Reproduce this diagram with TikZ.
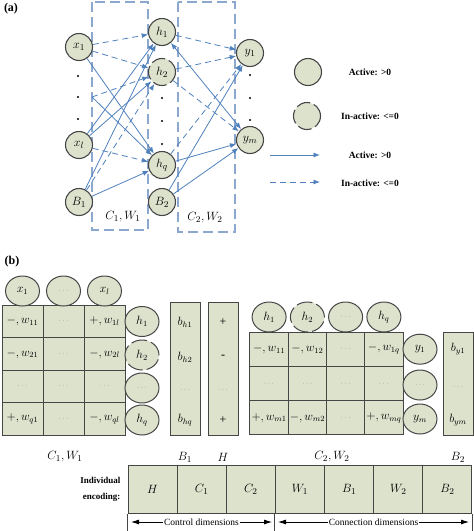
\documentclass[tikz,border=0pt]{standalone}
\usepackage{fontspec}
\setmainfont{Liberation Serif}
\usetikzlibrary{arrows.meta,shapes.geometric,positioning}
\definecolor{cellfill}{RGB}{221,226,205}
\definecolor{linkblue}{RGB}{79,129,189}
\definecolor{boxblue}{RGB}{141,168,206}
\definecolor{rimgray}{RGB}{70,70,70}
\newcommand{\elide}{{\color{gray}\scriptsize$\cdots$}}

\begin{document}
\begin{tikzpicture}[
        x=1pt, y=-1pt,
        neuron/.style={circle, draw=rimgray, fill=cellfill, line width=1.1pt, minimum size=27pt, inner sep=0pt, font=\fontsize{13}{15}\selectfont},
        neuron_off/.style={neuron, dash pattern=on 14pt off 4pt},
        link_on/.style={draw=linkblue, line width=0.8pt, -{Latex[length=6.5pt,width=5pt]}},
        link_off/.style={link_on, dash pattern=on 6pt off 4pt},
        link_back/.style={link_on, {Latex[length=6.5pt,width=5pt]}-{Latex[length=6.5pt,width=5pt]}},
        layer_box/.style={draw=boxblue, line width=1.3pt, dash pattern=on 10pt off 5pt},
        key_text/.style={font=\fontsize{9.5}{11}\selectfont\bfseries, inner sep=0pt},
        panel/.style={font=\fontsize{12}{14}\selectfont\bfseries, inner sep=0pt},
        cell/.style={draw=rimgray, fill=cellfill, line width=1pt, minimum width=41pt, minimum height=32.5pt, inner sep=0pt, font=\fontsize{12}{14}\selectfont},
        cell_b/.style={cell, minimum width=38.25pt, minimum height=34.33pt},
        bubble/.style={ellipse, draw=rimgray, fill=cellfill, line width=1pt, minimum width=34pt, minimum height=30pt, inner sep=0pt, font=\fontsize{12}{14}\selectfont},
        bubble_off/.style={bubble, dash pattern=on 16pt off 4pt},
        vec/.style={draw=rimgray, fill=cellfill, line width=1pt, minimum width=30pt, inner sep=0pt},
        entry/.style={inner sep=0pt, font=\fontsize{12}{14}\selectfont},
        under/.style={inner sep=0pt, font=\fontsize{13}{15}\selectfont},
        enc_cell/.style={draw=rimgray, fill=cellfill, line width=1pt, minimum width=49.14pt, minimum height=48pt, inner sep=0pt, font=\fontsize{13}{15}\selectfont},
        dim_arrow/.style={line width=0.8pt, {Latex[length=8pt,width=5pt]}-{Latex[length=8pt,width=5pt]}},
        dim_text/.style={fill=white, inner sep=1pt, font=\fontsize{9.5}{11}\selectfont}
    ]
    \useasboundingbox (0,0) rectangle (474,531);

    % (a) network
    \node[panel] (tag_a) at (11,9) {(a)};
    \draw[layer_box] (92,2) rectangle (148,230);
    \draw[layer_box] (178,2) rectangle (235,232);

    \node[neuron] (in1) at (79,47) {$x_1$};
    \node[neuron] (inl) at (79,145) {$x_l$};
    \node[neuron] (bias1) at (79,202) {$B_1$};
    \node[neuron] (hid1) at (162,32) {$h_1$};
    \node[neuron_off] (hid2) at (162,72) {$h_2$};
    \node[neuron] (hidq) at (162,165) {$h_q$};
    \node[neuron] (bias2) at (162,202) {$B_2$};
    \node[neuron] (out1) at (250,53) {$y_1$};
    \node[neuron] (outm) at (250,140) {$y_m$};
    \coordinate (xmid) at (92,97);

    \foreach \y in {76,97,119} \fill (78,\y) circle (1.1pt);
    \foreach \y in {98,121,144} \fill (162,\y) circle (1.1pt);
    \foreach \y in {75,98,120} \fill (250,\y) circle (1.1pt);

    \foreach \s/\t/\k in {in1/hid1/link_off, in1/hid2/link_off, in1/hidq/link_on,
            xmid/hid2/link_off, xmid/hidq/link_on,
            inl/hid1/link_on, inl/hid2/link_on, inl/hidq/link_off,
            bias1/hid1/link_on, bias1/hid2/link_off, bias1/hidq/link_on,
            hid1/out1/link_off, hid1/outm/link_back, hid2/out1/link_off, hid2/outm/link_off,
            hidq/out1/link_off, hidq/outm/link_on, bias2/out1/link_on, bias2/outm/link_on}
        \draw[\k] (\s) -- (\t);

    \node[under] (cw1) at (123,217) {$C_1, W_1$};
    \node[under] (cw2) at (205,218) {$C_2, W_2$};

    % legend
    \node[neuron] (key_on) at (308,72) {};
    \node[neuron_off] (key_off) at (307,116) {};
    \node[key_text] (key_on_t) at (370,72) {Active: >0};
    \node[key_text] (key_off_t) at (370,116) {In-active: <=0};
    \coordinate (key_s1) at (270,155);
    \coordinate (key_e1) at (320,155);
    \coordinate (key_s2) at (270,182);
    \coordinate (key_e2) at (320,182);
    \draw[link_on] (key_s1) -- (key_e1);
    \draw[link_off] (key_s2) -- (key_e2);
    \node[key_text] (key_l1_t) at (370,155) {Active: >0};
    \node[key_text] (key_l2_t) at (370,183) {In-active: <=0};

    % (b) matrices
    \node[panel] (tag_b) at (12,262) {(b)};
    \foreach \r/\ca/\cb/\cc in {1/{$-,w_{11}$}/\elide/{$+,w_{1l}$},
            2/{$-,w_{21}$}/\elide/{$-,w_{2l}$},
            3/\elide/\elide/\elide,
            4/{$+,w_{q1}$}/\elide/{$-,w_{ql}$}} {
        \node[cell] (wa\r1) at (22.5, {288.75+32.5*\r}) {\ca};
        \node[cell] (wa\r2) at (63.5, {288.75+32.5*\r}) {\cb};
        \node[cell] (wa\r3) at (104.5, {288.75+32.5*\r}) {\cc};
    }
    \node[bubble] (ta1) at (22.5,291) {$x_1$};
    \node[bubble] (ta2) at (63.5,291) {\elide};
    \node[bubble] (ta3) at (104.5,291) {$x_l$};
    \node[bubble] (ra1) at (142,321.5) {$h_1$};
    \node[bubble_off] (ra2) at (142,355) {$h_2$};
    \node[bubble] (ra3) at (142,388) {\elide};
    \node[bubble] (ra4) at (142,420) {$h_q$};

    \node[vec, minimum height=133pt] (vb1) at (185,368.5) {};
    \node[entry] (vb1e1) at (185,322) {$b_{h1}$};
    \node[entry] (vb1e2) at (185,357) {$b_{h2}$};
    \node[entry] (vb1e3) at (185,390) {\elide};
    \node[entry] (vb1e4) at (185,420) {$b_{hq}$};
    \node[vec, minimum height=133pt] (vh) at (223,368.5) {};
    \node[entry] (vhe1) at (223,322) {+};
    \node[entry] (vhe2) at (223,357) {-};
    \node[entry] (vhe3) at (223,390) {\elide};
    \node[entry] (vhe4) at (223,420) {+};

    \foreach \r/\ca/\cb/\cc/\cd in {1/{$-,w_{11}$}/{$-,w_{12}$}/\elide/{$-,w_{1q}$},
            2/\elide/\elide/\elide/\elide,
            3/{$+,w_{m1}$}/{$-,w_{m2}$}/\elide/{$+,w_{mq}$}} {
        \node[cell_b] (wb\r1) at (269.1, {314.83+34.33*\r}) {\ca};
        \node[cell_b] (wb\r2) at (307.4, {314.83+34.33*\r}) {\cb};
        \node[cell_b] (wb\r3) at (345.6, {314.83+34.33*\r}) {\cc};
        \node[cell_b] (wb\r4) at (383.9, {314.83+34.33*\r}) {\cd};
    }
    \node[bubble] (tb1) at (269.1,317) {$h_1$};
    \node[bubble_off] (tb2) at (307.4,317) {$h_2$};
    \node[bubble] (tb3) at (345.6,317) {\elide};
    \node[bubble] (tb4) at (383.9,317) {$h_q$};
    \node[bubble] (rb1) at (420,349.2) {$y_1$};
    \node[bubble] (rb2) at (420,385) {\elide};
    \node[bubble] (rb3) at (420,419) {$y_m$};

    \node[vec, minimum height=103pt] (vb2) at (458,383.5) {};
    \node[entry] (vb2e1) at (458,349) {$b_{y1}$};
    \node[entry] (vb2e2) at (458,387) {\elide};
    \node[entry] (vb2e3) at (458,420) {$b_{ym}$};

    \node[under] (lab_cw1) at (65,457) {$C_1, W_1$};
    \node[under] (lab_b1) at (185,457) {$B_1$};
    \node[under] (lab_h) at (223,457) {$H$};
    \node[under] (lab_cw2) at (332,457) {$C_2, W_2$};
    \node[under] (lab_b2) at (458,457) {$B_2$};

    % encoding row
    \foreach \lbl [count=\k] in {H, C_1, C_2, W_1, B_1, W_2, B_2}
        \node[enc_cell] (enc\k) at ({128+49.14*(\k-0.5)}, 489) {$\lbl$};
    \node[left=7pt of enc1, align=right, inner sep=0pt, font=\fontsize{9}{16}\selectfont\bfseries] (enc_label) {Individual\\encoding:};
    \draw[rimgray, line width=1pt] (enc1.south west) -- ++(0,18);
    \draw[rimgray, line width=1pt] (enc4.south west) -- ++(0,18);
    \draw[rimgray, line width=1pt] (enc7.south east) -- ++(0,18);
    \coordinate (ctl_s) at (131,522);
    \coordinate (ctl_e) at (272,522);
    \coordinate (con_s) at (278,522);
    \coordinate (con_e) at (469,522);
    \draw[dim_arrow] (ctl_s) -- (ctl_e) node[dim_text, midway] (ctl_t) {Control dimensions};
    \draw[dim_arrow] (con_s) -- (con_e) node[dim_text, midway] (con_t) {Connection dimensions};
\end{tikzpicture}
\end{document}
